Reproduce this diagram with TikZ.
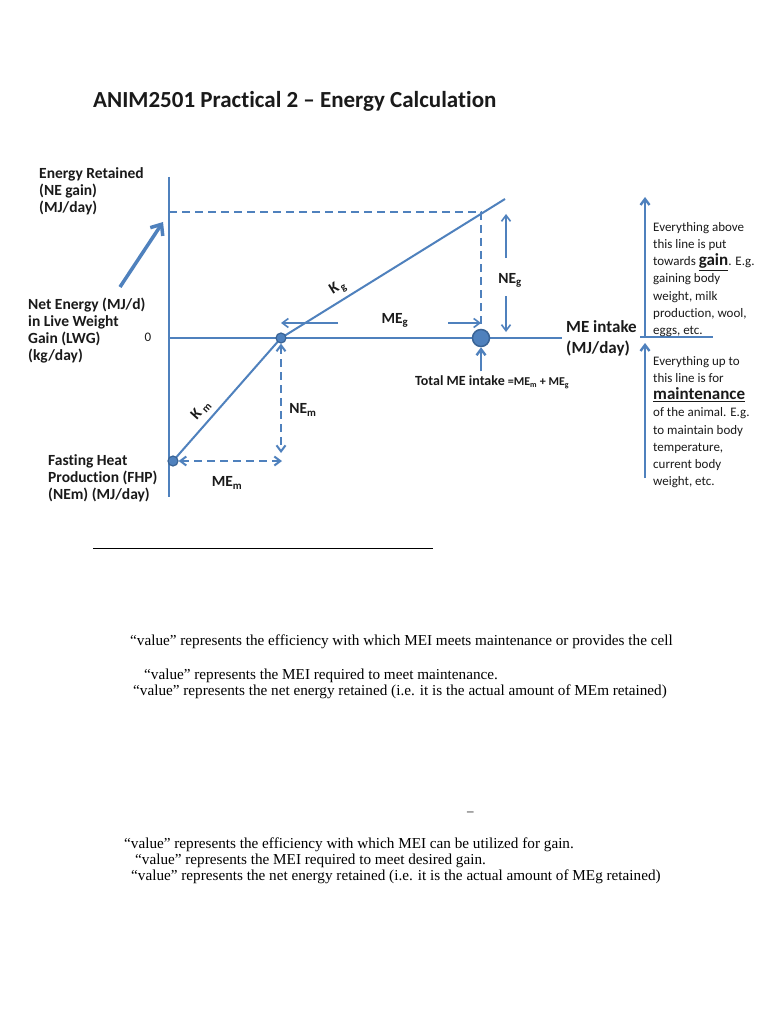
\documentclass[tikz,border=0pt]{standalone}
\usepackage{fontspec}
\setmainfont{Carlito}[Ligatures=NoCommon]
\newfontfamily\timesfont{Liberation Serif}
\usetikzlibrary{arrows.meta,calc,positioning,backgrounds}
\definecolor{eblue}{HTML}{4F81BD}
\definecolor{eedge}{HTML}{3A6496}
\definecolor{etext}{HTML}{1A1A1A}
\tikzset{
  >={Straight Barb[length=6pt,width=9pt]},
  eaxis/.style={eblue, line width=2.4pt},
  eline/.style={eblue, line width=2pt},
  eguide/.style={eblue, line width=2pt, dash pattern=on 8pt off 5pt},
  earr/.style={->, eblue, line width=1.6pt},
  ebig/.style={-{Straight Barb[length=9pt,width=15pt]}, eblue, line width=3.5pt},
  edot/.style={circle, fill=eblue, draw=eedge, line width=1.2pt, inner sep=0pt,
               minimum size=10pt},
  ebigdot/.style={edot, minimum size=17pt, line width=1.5pt},
  elbl/.style={font=\fontsize{15.5}{17}\selectfont\bfseries, text=etext, inner sep=0pt},
  eblock/.style={elbl, align=left, anchor=north west},
  enote/.style={font=\fontsize{13}{17.2}\selectfont, text=etext, inner sep=0pt,
                align=left, anchor=north west},
  eserif/.style={font=\timesfont\fontsize{15.2}{17}\selectfont, text=black,
                 inner sep=0pt, anchor=base west},
}

\begin{document}
\begin{tikzpicture}[x=1pt,y=-1pt]
  \begin{scope}[on background layer]
    \fill[white] (0,0) rectangle (768,1024);
  \end{scope}
  \useasboundingbox (0,0) rectangle (768,1024);

  % --- title ---
  \node[elbl, font=\fontsize{23}{26}\selectfont\bfseries, anchor=base west]
    (title) at (93,108) {ANIM2501 Practical 2 – Energy Calculation};

  % --- axes ---
  \coordinate (ytop) at (169,177);
  \coordinate (ybot) at (169,497);
  \coordinate (O) at (169,338);
  \coordinate (xend) at (562,338);
  \coordinate (m) at (281,338);
  \coordinate (t) at (481,338);
  \coordinate (f) at (173,461);
  \coordinate (gtop) at (481,212);
  \coordinate (gend) at (505,199);
  \draw[eaxis] (ytop) -- (ybot);
  \draw[eaxis] (O) -- (xend);
  \node[font=\fontsize{13}{15}\selectfont, text=etext, inner sep=0pt] (zero) at (148,337) {0};

  % --- efficiency lines ---
  \draw[eline] (f) -- (m) -- (gend);
  \draw[eguide] (ytop |- gtop) -- (gtop) -- (t);

  % --- points ---
  \node[edot] (mdot) at (m) {};
  \node[ebigdot] (tdot) at (t) {};
  \node[edot] (fdot) at (f) {};

  % --- maintenance part ---
  \coordinate (nemb) at (281,453);
  \coordinate (memr) at (282,461);
  \draw[eguide, <->] (mdot) -- (nemb);
  \draw[eguide, <->] (fdot) -- (memr);
  \node[elbl] (km) at (201,410) [rotate=48] {K\kern3pt\textsubscript{m}};
  \node[elbl] (nem) at (303,410) {NE\textsubscript{m}};
  \node[elbl] (mem) at (227,483) {ME\textsubscript{m}};

  % --- gain part ---
  \coordinate (megl) at (338,323);
  \coordinate (megr) at (448,323);
  \coordinate (negu) at (506,258);
  \coordinate (negd) at (506,296);
  \draw[earr] (megl) -- (m |- megl);
  \draw[earr] (megr) -- (t |- megr);
  \draw[earr] (negu) -- (506,214);
  \draw[earr] (negd) -- (506,332);
  \node[elbl] (kg) at (338,288) [rotate=32] {K\kern2pt\textsubscript{g}};
  \node[elbl] (meg) at (395,320) {ME\textsubscript{g}};
  \node[elbl] (neg) at (510,280) {NE\textsubscript{g}};

  % --- axis labels ---
  \node[eblock, font=\fontsize{17}{21}\selectfont\bfseries] (mei) at (566,320)
    {ME intake\\(MJ/day)};
  \node[elbl, font=\fontsize{14}{16}\selectfont\bfseries, anchor=west] (tot) at (415,382)
    {Total ME intake {\fontsize{12}{13}\selectfont =ME\textsubscript{m} + ME\textsubscript{g}}};
  \draw[earr, line width=2.4pt] ($(tdot |- tot.north)+(0,-4)$) -- (tdot);

  \node[eblock] (ner) at (39,167) {Energy Retained\\(NE gain)\\(MJ/day)};
  \node[eblock] (lwg) at (28,298) {Net Energy (MJ/d)\\in Live Weight\\Gain (LWG)\\(kg/day)};
  \node[eblock] (fhp) at (48,454) {Fasting Heat\\Production (FHP)\\(NEm) (MJ/day)};
  \coordinate (bigs) at (120,287);
  \coordinate (bige) at (163,222);
  \draw[ebig] (bigs) -- (bige);

  % --- side notes ---
  \coordinate (sgtop) at (645,197);
  \coordinate (sgbot) at (645,337);
  \coordinate (smtop) at (645,343);
  \coordinate (smbot) at (645,478);
  \draw[earr, line width=2.4pt] (sgbot) -- (sgtop);
  \draw[earr, line width=2.4pt] (smbot) -- (smtop);
  \draw[eline] (640,337) -- (713,337);
  \node[enote] (above) at (653,222)
    {Everything above\\this line is put\\towards {\fontsize{17}{17.2}\selectfont\bfseries\underline{gain}}. E.g.\\gaining body\\weight, milk\\production, wool,\\eggs, etc.};
  \node[enote] (upto) at (653,356)
    {Everything up to\\this line is for\\{\fontsize{17}{17.2}\selectfont\bfseries\underline{maintenance}}\\of the animal. E.g.\\to maintain body\\temperature,\\current body\\weight, etc.};

  % --- text below ---
  \draw[black, line width=1pt] (93,548) -- (433,548);
  \node[eserif] (t1) at (130,645) {“value” represents the efficiency with which MEI meets maintenance or provides the cell};
  \node[eserif] (t2) at (144,679) {“value” represents the MEI required to meet maintenance.};
  \node[eserif] (t3) at (133,695) {“value” represents the net energy retained (i.e. it is the actual amount of MEm retained)};
  \node[eserif, font=\timesfont\fontsize{13}{14}\selectfont] (dash) at (467,815) {–};
  \node[eserif] (t4) at (124,848) {“value” represents the efficiency with which MEI can be utilized for gain.};
  \node[eserif] (t5) at (135,864) {“value” represents the MEI required to meet desired gain.};
  \node[eserif] (t6) at (131,880) {“value” represents the net energy retained (i.e. it is the actual amount of MEg retained)};
\end{tikzpicture}
\end{document}
